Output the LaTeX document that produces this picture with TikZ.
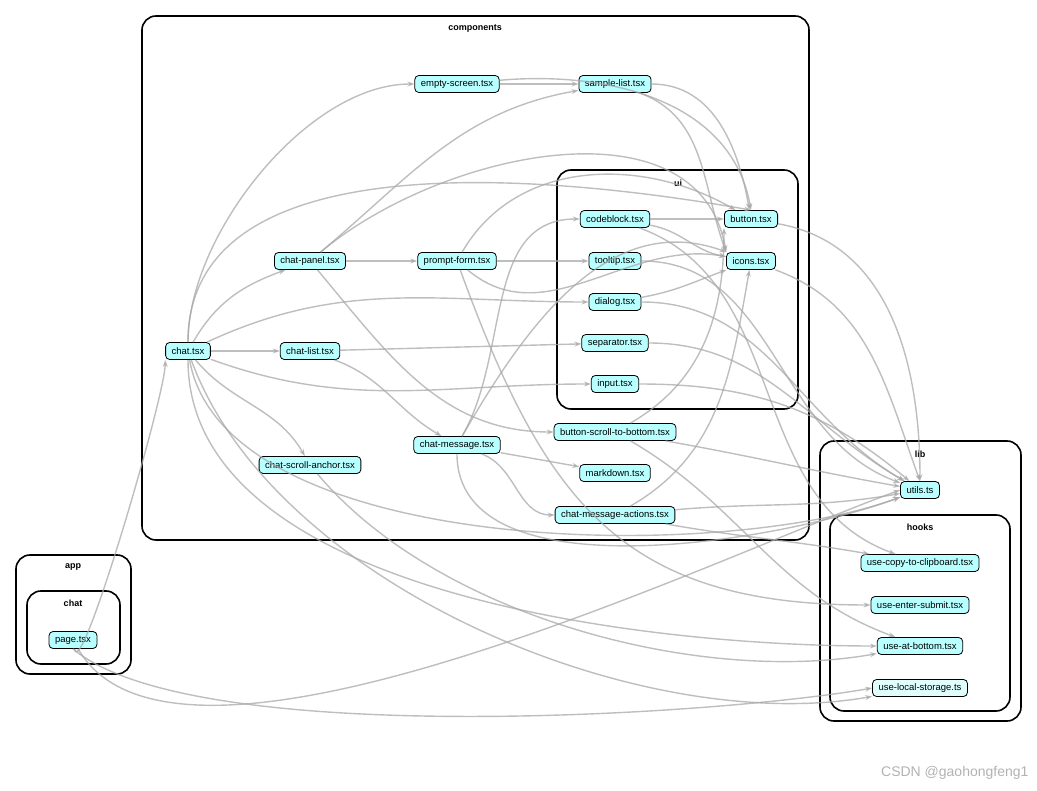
\documentclass[tikz,border=0pt]{standalone}
\usepackage{fontspec}
\setmainfont{Liberation Sans}
\usetikzlibrary{arrows.meta,positioning}

\definecolor{filecol}{HTML}{B8FFFF}
\definecolor{edgecol}{HTML}{A8A8A8}

\tikzset{
  file/.style={draw, rounded corners=4pt, fill=filecol, font=\fontsize{9.5}{11}\selectfont,
    minimum height=17pt, inner xsep=6pt, line width=0.8pt},
  cluster/.style={draw, rounded corners=14pt, line width=1.6pt},
  clabel/.style={font=\bfseries\fontsize{9}{11}\selectfont},
  dep/.style={draw=edgecol, opacity=0.75, line width=1.4pt, -{Stealth[length=7pt,width=5pt]}}
}

\begin{document}
\begin{tikzpicture}[x=1pt,y=-1pt]
    \useasboundingbox (0,0) rectangle (1037,791);

    % Clusters
    \draw[cluster] (142,16) rectangle (809,540);
    \node[clabel] at (475,29) {components};
    \draw[cluster] (557,170) rectangle (798,409);
    \node[clabel] at (678,183) {ui};
    \draw[cluster] (820,441) rectangle (1021,721);
    \node[clabel] at (920,454) {lib};
    \draw[cluster] (830,515) rectangle (1010,711);
    \node[clabel] at (920,527) {hooks};
    \draw[cluster] (16,555) rectangle (131,674);
    \node[clabel] at (73,567) {app};
    \draw[cluster] (27,591) rectangle (120,664);
    \node[clabel] at (73,603) {chat};

    % Files
    \node[file] (empty)   at (457,84)  {empty-screen.tsx};
    \node[file] (sample)  at (615,84)  {sample-list.tsx};
    \node[file] (button)  at (751,219) {button.tsx};
    \node[file] (icons)   at (751,261) {icons.tsx};
    \node[file] (code)    at (615,219) {codeblock.tsx};
    \node[file] (tooltip) at (615,261) {tooltip.tsx};
    \node[file] (dialog)  at (615,302) {dialog.tsx};
    \node[file] (sep)     at (615,343) {separator.tsx};
    \node[file] (input)   at (615,384) {input.tsx};
    \node[file] (panel)   at (310,261) {chat-panel.tsx};
    \node[file] (prompt)  at (457,261) {prompt-form.tsx};
    \node[file] (chat)    at (188,351) {chat.tsx};
    \node[file] (list)    at (310,351) {chat-list.tsx};
    \node[file] (message) at (457,445) {chat-message.tsx};
    \node[file] (scroll)  at (615,432) {button-scroll-to-bottom.tsx};
    \node[file] (mark)    at (615,473) {markdown.tsx};
    \node[file] (actions) at (615,515) {chat-message-actions.tsx};
    \node[file] (anchor)  at (310,465) {chat-scroll-anchor.tsx};
    \node[file] (utils)   at (920,490) {utils.ts};
    \node[file] (copy)    at (920,563) {use-copy-to-clipboard.tsx};
    \node[file] (enter)   at (920,605) {use-enter-submit.tsx};
    \node[file] (bottom)  at (920,646) {use-at-bottom.tsx};
    \node[file, fill=filecol!45] (storage) at (920,688) {use-local-storage.ts};
    \node[file] (page)    at (73,640)  {page.tsx};

    % Dependencies
    \draw[dep] (page) to[out=-80,in=-90,looseness=0.3] (chat.south west);
    \draw[dep] (page) to[out=-60,in=200,looseness=0.6] (utils.west);
    \draw[dep] (page.south) to[out=-40,in=190,looseness=0.5] (storage.west);

    \draw[dep] (chat) to[out=90,in=180,looseness=0.8] (empty);
    \draw[dep] (chat) to[out=90,in=170,looseness=0.9] (button.north);
    \draw[dep] (chat) to[out=60,in=200] (panel);
    \draw[dep] (chat) -- (list);
    \draw[dep] (chat) to[out=-50,in=120] (anchor);
    \draw[dep] (chat) to[out=25,in=180] (dialog);
    \draw[dep] (chat) to[out=-20,in=180] (input);
    \draw[dep] (chat) to[out=-90,in=180,looseness=0.8] (bottom);
    \draw[dep] (chat) to[out=-70,in=190,looseness=0.8] (storage);
    \draw[dep] (chat) to[out=-80,in=200,looseness=0.7] (utils);

    \draw[dep] (empty) -- (sample);
    \draw[dep] (empty) to[out=5,in=100] (button.north);
    \draw[dep] (sample) to[out=0,in=100] (button);
    \draw[dep] (sample) to[out=-20,in=110] (icons.north west);

    \draw[dep] (panel) -- (prompt);
    \draw[dep] (panel) to[out=40,in=190] (sample);
    \draw[dep] (panel) to[out=-50,in=180] (scroll);
    \draw[dep] (panel) to[out=40,in=100] (icons.north west);

    \draw[dep] (prompt) -- (tooltip);
    \draw[dep] (prompt) to[out=60,in=150] (button);
    \draw[dep] (prompt) to[out=-70,in=180,looseness=1.2] (enter);
    \draw[dep] (prompt) to[out=-40,in=170] (icons);

    \draw[dep] (list) -- (sep);
    \draw[dep] (list) to[out=-20,in=150] (message);

    \draw[dep] (message) to[out=60,in=180] (code);
    \draw[dep] (message) to[out=60,in=160] (icons);
    \draw[dep] (message) -- (mark);
    \draw[dep] (message) to[out=-20,in=180] (actions);
    \draw[dep] (message) to[out=-90,in=200,looseness=0.8] (utils);

    \draw[dep] (code) -- (button);
    \draw[dep] (code) to[out=-10,in=170] (icons);
    \draw[dep] (code) to[out=-20,in=160] (copy);

    \draw[dep] (tooltip) to[out=0,in=160] (utils);
    \draw[dep] (dialog) to[out=10,in=200] (icons);
    \draw[dep] (dialog) to[out=0,in=150] (utils);
    \draw[dep] (sep) to[out=0,in=150] (utils);
    \draw[dep] (input) to[out=0,in=140] (utils);
    \draw[dep] (button) to[out=-10,in=90] (utils.north);
    \draw[dep] (icons) to[out=-20,in=110] (utils.north);

    \draw[dep] (scroll) to[out=30,in=-90] (button.south west);
    \draw[dep] (scroll) to[out=-10,in=170] (utils);
    \draw[dep] (scroll) to[out=-30,in=160] (bottom);

    \draw[dep] (actions) to[out=30,in=-100] (icons);
    \draw[dep] (actions) to[out=5,in=190] (utils);
    \draw[dep] (actions) to[out=-10,in=170] (copy);

    \draw[dep] (anchor) to[out=-50,in=190,looseness=0.8] (bottom);

    % Watermark
    \node[text=black!30, font=\fontsize{14}{16}\selectfont, anchor=east] at (1032,773) {CSDN @gaohongfeng1};
\end{tikzpicture}
\end{document}
